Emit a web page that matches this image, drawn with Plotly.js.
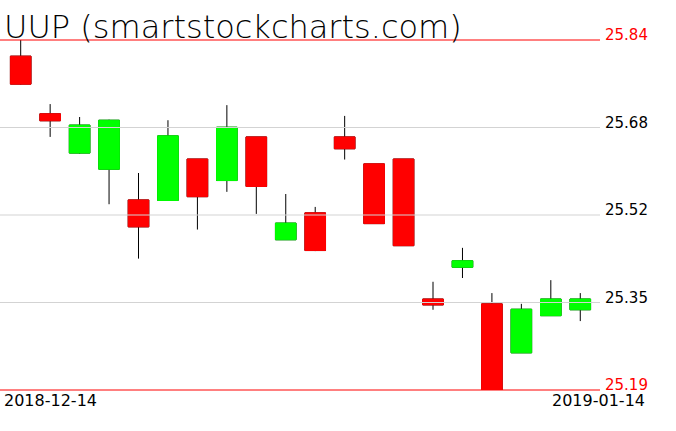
<!DOCTYPE html>
<html>
<head>
<meta charset="utf-8">
<script src="https://cdn.plot.ly/plotly-3.0.1.min.js"></script>
<style>
  html, body { margin: 0; padding: 0; background: #fff; }
  #chart { width: 676px; height: 431px; }
</style>
</head>
<body>
<div id="chart"></div>
<script>
const dates = [
  '2018-12-14', '2018-12-17', '2018-12-18', '2018-12-19', '2018-12-20',
  '2018-12-21', '2018-12-24', '2018-12-26', '2018-12-27', '2018-12-28',
  '2018-12-31', '2019-01-02', '2019-01-03', '2019-01-04', '2019-01-07',
  '2019-01-08', '2019-01-09', '2019-01-10', '2019-01-11', '2019-01-14',
];
const opens  = [25.810, 25.703, 25.630, 25.600, 25.543, 25.542, 25.619, 25.579, 25.660, 25.469,
                25.519, 25.660, 25.610, 25.619, 25.359, 25.418, 25.350, 25.259, 25.328, 25.339];
const highs  = [25.840, 25.721, 25.697, 25.692, 25.593, 25.691, 25.619, 25.719, 25.660, 25.554,
                25.530, 25.699, 25.610, 25.619, 25.391, 25.454, 25.370, 25.350, 25.394, 25.370];
const lows   = [25.757, 25.660, 25.629, 25.535, 25.434, 25.541, 25.488, 25.558, 25.517, 25.469,
                25.448, 25.618, 25.499, 25.458, 25.339, 25.398, 25.190, 25.259, 25.328, 25.318];
const closes = [25.758, 25.690, 25.682, 25.691, 25.493, 25.662, 25.549, 25.678, 25.568, 25.500,
                25.449, 25.638, 25.499, 25.458, 25.348, 25.430, 25.190, 25.340, 25.359, 25.359];

const TITLE = 'UUP (smartstockcharts.com)';
const FONT = 'DejaVu Sans, sans-serif';
const UP = '#00ff00';
const DOWN = '#ff0000';

const maxP = Math.max(...highs);
const minP = Math.min(...lows);
const tickVals = [0, 1, 2, 3, 4].map(i => minP + i * (maxP - minP) / 4);
const tickText = tickVals.map((v, i) => {
  const t = v.toFixed(2);
  return (i === 0 || i === 4) ? `<span style="color:red">${t}</span>` : t;
});

// body-only copies so the colored boxes have no wicks of their own
const bodyHigh = opens.map((o, i) => Math.max(o, closes[i]));
const bodyLow = opens.map((o, i) => Math.min(o, closes[i]));

const wicks = {
  type: 'candlestick',
  x: dates, open: opens, high: highs, low: lows, close: closes,
  increasing: { line: { color: '#000', width: 1 }, fillcolor: 'rgba(0,0,0,0)' },
  decreasing: { line: { color: '#000', width: 1 }, fillcolor: 'rgba(0,0,0,0)' },
  hoverinfo: 'skip',
  showlegend: false,
};

const bodies = {
  type: 'candlestick',
  x: dates, open: opens, high: bodyHigh, low: bodyLow, close: closes,
  increasing: { line: { color: UP, width: 1 }, fillcolor: UP },
  decreasing: { line: { color: DOWN, width: 1 }, fillcolor: DOWN },
  hoverinfo: 'skip',
  showlegend: false,
};

// grey grid on top of the bodies
const shapes = tickVals.slice(1, 4).map(v => ({
  type: 'line', xref: 'paper', x0: 0, x1: 1,
  yref: 'y', y0: v, y1: v,
  line: { color: '#d3d3d3', width: 1 },
  layer: 'above',
}));
// red lines at the max / min (paper refs so they are not clipped)
[0, 1].forEach(p => {
  shapes.push({
    type: 'line', xref: 'paper', x0: 0, x1: 1,
    yref: 'paper', y0: p, y1: p,
    line: { color: 'red', width: 1 },
    layer: 'above',
  });
});

const layout = {
  width: 676,
  height: 431,
  margin: { l: 0, r: 76, t: 40, b: 41 },
  paper_bgcolor: '#fff',
  plot_bgcolor: '#fff',
  font: { family: FONT, color: '#000', size: 15 },
  title: {
    text: TITLE,
    font: { family: FONT, size: 32, color: '#000', weight: 200 },
    xref: 'container', x: 4 / 676, xanchor: 'left',
    yref: 'container', y: 1 - 27 / 431, yanchor: 'middle',
  },
  xaxis: {
    type: 'category',
    range: [-0.703, 19.67],
    showgrid: false,
    zeroline: false,
    showticklabels: false,
    ticks: '',
    rangeslider: { visible: false },
    fixedrange: true,
  },
  yaxis: {
    side: 'right',
    range: [minP, maxP],
    tickvals: tickVals,
    ticktext: tickText,
    showgrid: false,
    zeroline: false,
    ticks: '',
    ticklabelstandoff: 4,
    ticklabelshift: -5,
    tickfont: { family: FONT, size: 15, color: '#000' },
    fixedrange: true,
  },
  boxgap: 0.3,
  boxgroupgap: 0,
  shapes: shapes,
  annotations: [
    {
      text: dates[0], xref: 'paper', x: 2 / 600, xanchor: 'left',
      yref: 'paper', y: 0, yanchor: 'middle', yshift: -10.5,
      showarrow: false, font: { family: FONT, size: 16, color: '#000' },
    },
    {
      text: dates[dates.length - 1], xref: 'paper', x: 647 / 600, xanchor: 'right',
      yref: 'paper', y: 0, yanchor: 'middle', yshift: -10.5,
      showarrow: false, font: { family: FONT, size: 16, color: '#000' },
    },
  ],
};

Plotly.newPlot('chart', [wicks, bodies], layout, { displayModeBar: false, staticPlot: true });
</script>
</body>
</html>
